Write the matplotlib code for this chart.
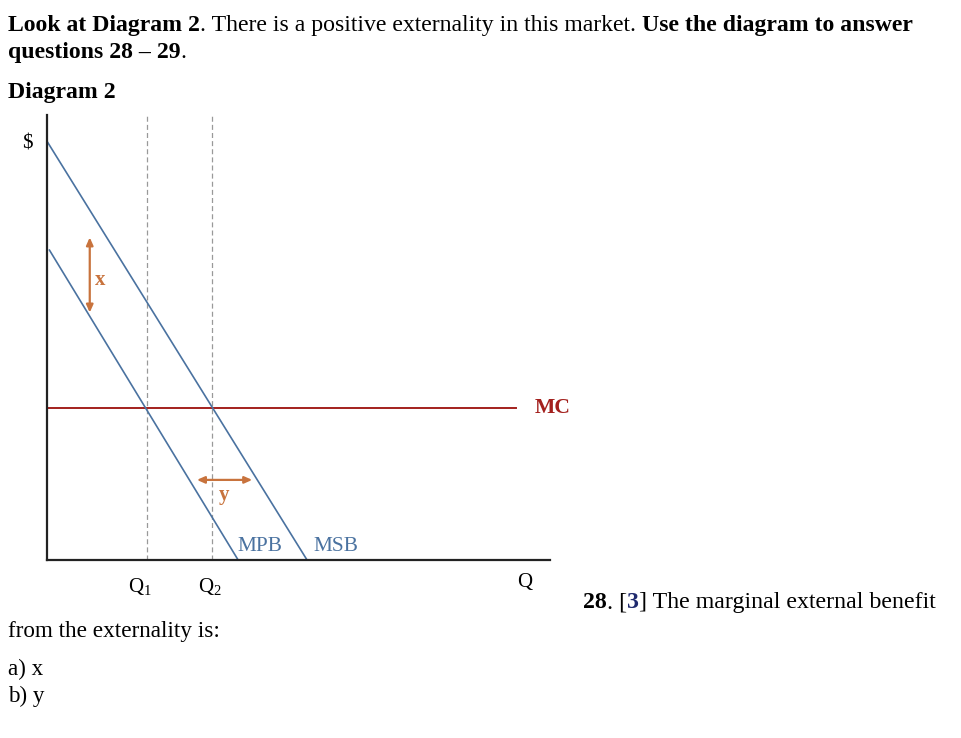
import matplotlib
matplotlib.use('Agg')
import matplotlib.pyplot as plt
import numpy as np

plt.rcParams['font.family'] = ['Liberation Serif', 'DejaVu Serif']
plt.rcParams['mathtext.fontset'] = 'custom'
plt.rcParams['mathtext.rm'] = 'Liberation Serif'

# curves of the diagram, in (Q, P) units
msb_q = [0.0, 5.17]
msb_p = [9.41, 0.0]
mpb_q = [0.04, 3.80]
mpb_p = [6.98, 0.0]
mc_q = [0.0, 9.32]
mc_p = [3.42, 3.42]
q1 = 1.99
q2 = 3.29
x_arrow_q = 0.85
x_arrow_p = [5.56, 7.25]
y_arrow_p = 1.80
y_arrow_q = [2.98, 4.08]

header1 = [("Look at Diagram 2", 'bold'), (". There is a positive externality in this market. ", 'normal'),
           ("Use the diagram to answer", 'bold')]
header2 = [("questions 28 \u2013 29", 'bold'), (".", 'normal')]
q28 = [("28", 'bold', 'black'), (". [", 'normal', 'black'), ("3", 'bold', '#1f2a6e'),
       ("] The marginal external benefit", 'normal', 'black')]

W, H = 962, 738
fig = plt.figure(figsize=(W / 100, H / 100), dpi=100)
blue = '#4a72a0'
red = '#a3201d'
orange = '#c8733d'

# diagram axes: left 47px, right 550px, top 115px, bottom 560px
ax = fig.add_axes([47 / W, 1 - 560 / H, 503 / W, 445 / H])
ax.set_xlim(0, 10)
ax.set_ylim(0, 10)
ax.patch.set_alpha(0)
for s in ['top', 'right']:
    ax.spines[s].set_visible(False)
for s in ['left', 'bottom']:
    ax.spines[s].set_linewidth(1.6)
    ax.spines[s].set_color('#222222')
ax.set_xticks([])
ax.set_yticks([])

ax.plot([q1, q1], [0, 10], color='#999999', lw=0.9, ls=(0, (4, 2.5)))
ax.plot([q2, q2], [0, 10], color='#999999', lw=0.9, ls=(0, (4, 2.5)))
ax.plot(mc_q, mc_p, color=red, lw=1.4)
ax.plot(msb_q, msb_p, color=blue, lw=1.2, solid_capstyle='butt')
ax.plot(mpb_q, mpb_p, color=blue, lw=1.2, solid_capstyle='butt')

ax.annotate('', xy=(x_arrow_q, x_arrow_p[0]), xytext=(x_arrow_q, x_arrow_p[1]),
            arrowprops=dict(arrowstyle='<|-|>,head_length=0.45,head_width=0.2', color=orange, lw=1.6,
                            shrinkA=0, shrinkB=0))
ax.annotate('', xy=(y_arrow_q[0], y_arrow_p), xytext=(y_arrow_q[1], y_arrow_p),
            arrowprops=dict(arrowstyle='<|-|>,head_length=0.45,head_width=0.2', color=orange, lw=1.6,
                            shrinkA=0, shrinkB=0))
ax.text(1.05, 6.3, 'x', color=orange, fontsize=15, fontweight='bold', ha='center', va='center')
ax.text(3.52, 1.46, 'y', color=orange, fontsize=15, fontweight='bold', ha='center', va='center')
ax.text(4.23, 0.2, 'MPB', color=blue, fontsize=15.4, ha='center', va='baseline')
ax.text(5.75, 0.2, 'MSB', color=blue, fontsize=15.4, ha='center', va='baseline')
ax.text(9.7, 3.42, 'MC', color=red, fontsize=15.6, fontweight='bold', ha='left', va='center')
ax.text(1.85, -0.6, 'Q$_1$', fontsize=15, ha='center', va='center', clip_on=False)
ax.text(3.24, -0.6, 'Q$_2$', fontsize=15, ha='center', va='center', clip_on=False)
ax.text(9.5, -0.5, 'Q', fontsize=15, ha='center', va='center', clip_on=False)
ax.text(-0.4, 9.35, '$', fontsize=15, ha='center', va='center', clip_on=False)

renderer = fig.canvas.get_renderer()


def write_line(pieces, x, y, size):
    # place text pieces one after another on a shared baseline (pixel coords)
    for p in pieces:
        txt, weight = p[0], p[1]
        color = p[2] if len(p) > 2 else 'black'
        t = fig.text(x / W, 1 - y / H, txt, fontsize=size, fontweight=weight, color=color,
                     ha='left', va='baseline')
        x += t.get_window_extent(renderer).width


write_line(header1, 8, 31, 17.1)
write_line(header2, 8, 58, 17.1)
write_line([("Diagram 2", 'bold')], 8, 98, 17.1)
write_line(q28, 583, 608, 17.2)
write_line([("from the externality is:", 'normal')], 8, 637, 16.7)
write_line([("a) x", 'normal')], 8, 675, 16.7)
write_line([("b) y", 'normal')], 8, 702, 16.7)

fig.savefig('out.png', dpi=100)
